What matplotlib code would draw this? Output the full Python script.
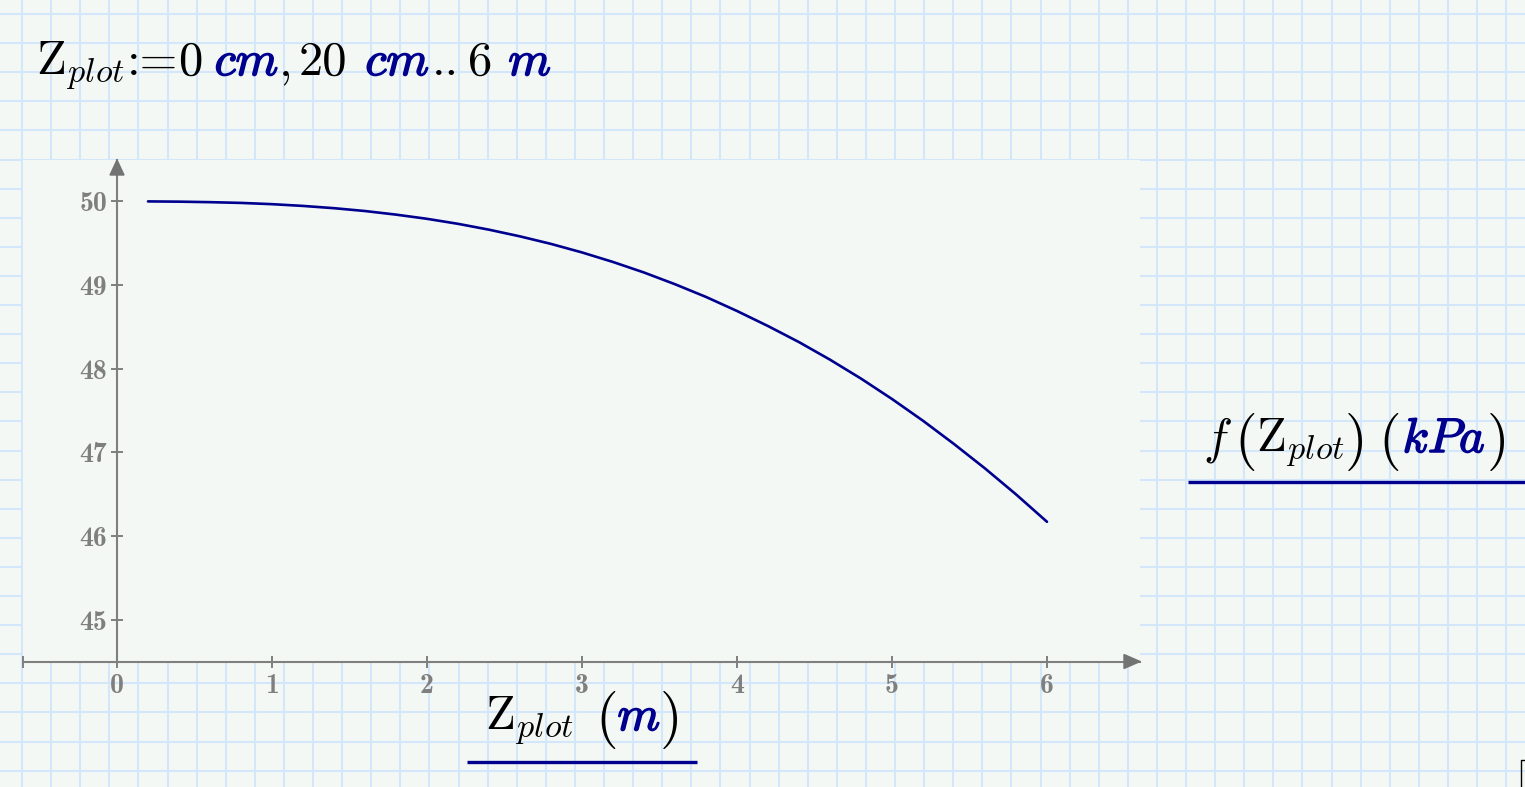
import matplotlib
matplotlib.use('Agg')
import matplotlib.pyplot as plt
import numpy as np
from matplotlib import patheffects as pe
from matplotlib.patches import Polygon

plt.rcParams['mathtext.fontset'] = 'cm'
plt.rcParams['axes.unicode_minus'] = False

# ---- data ----
z_plot = [0.2, 0.4, 0.6, 0.8, 1.0, 1.2, 1.4, 1.6, 1.8, 2.0,
          2.2, 2.4, 2.6, 2.8, 3.0, 3.2, 3.4, 3.6, 3.8, 4.0,
          4.2, 4.4, 4.6, 4.8, 5.0, 5.2, 5.4, 5.6, 5.8, 6.0]
f_vals = [50.000, 49.997, 49.991, 49.982, 49.967, 49.946, 49.919, 49.885, 49.842, 49.792,
          49.732, 49.662, 49.582, 49.492, 49.390, 49.276, 49.150, 49.010, 48.858, 48.690,
          48.510, 48.318, 48.108, 47.882, 47.638, 47.378, 47.100, 46.808, 46.498, 46.170]
x_ticks = [0, 1, 2, 3, 4, 5, 6]
y_ticks = [45, 46, 47, 48, 49, 50]
x_tick_labels = ['0', '1', '2', '3', '4', '5', '6']
y_tick_labels = ['45', '46', '47', '48', '49', '50']

W, H = 1525, 787
BG = '#f4f8f5'
GRID = '#d3e6fa'
BLUE = '#00008f'
GRAY = '#7f7f7f'

fig = plt.figure(figsize=(W / 100, H / 100), dpi=100)
fig.patch.set_facecolor(BG)

# background worksheet grid
bgax = fig.add_axes([0, 0, 1, 1], zorder=0)
bgax.set_xlim(0, W)
bgax.set_ylim(H, 0)
bgax.axis('off')
for gx in np.arange(22, W, 29.1):
    bgax.axvline(gx, color=GRID, lw=1.5, zorder=0)
for gy in np.arange(14, H, 29.1):
    bgax.axhline(gy, color=GRID, lw=1.5, zorder=0)

# underlines of the axis labels
bgax.plot([467, 697], [762, 762], color=BLUE, lw=2.4, solid_capstyle='butt', zorder=2)
bgax.plot([1188, 1525], [482, 482], color=BLUE, lw=2.4, solid_capstyle='butt', zorder=2)
# small cursor mark in the corner
bgax.plot([1521, 1521, 1525], [787, 760, 760], color='black', lw=1.0, zorder=2)

# main plot
L, R, T, B = 23, 1140, 160, 661.5
ax = fig.add_axes([L / W, 1 - B / H, (R - L) / W, (B - T) / H], zorder=2)
ax.set_facecolor(BG)
ax.set_xlim(-0.6065, 6.6)
ax.set_ylim(44.5, 50.495)

ax.plot(z_plot, f_vals, color=BLUE, lw=1.9, solid_capstyle='round',
        solid_joinstyle='round', zorder=3)

for s in ['top', 'right']:
    ax.spines[s].set_visible(False)
ax.spines['left'].set_position(('data', 0))
for s in ['left', 'bottom']:
    ax.spines[s].set_color(GRAY)
    ax.spines[s].set_linewidth(1.5)

ax.set_xticks(x_ticks)
ax.set_xticklabels(x_tick_labels, fontfamily='cmb10')
ax.set_yticks(y_ticks)
ax.set_yticklabels(y_tick_labels, fontfamily='cmb10')
ax.set_xticks([ax.get_xlim()[0]], minor=True)
ax.tick_params(which='both', direction='inout', length=8, width=1.4, color=GRAY,
               labelcolor=GRAY, labelsize=20)
ax.tick_params(axis='x', pad=4)
ax.tick_params(axis='y', pad=3)

# arrow heads
pw, ph = (R - L), (B - T)
xa = Polygon([[1, 0], [1 - 16 / pw, 7 / ph], [1 - 16 / pw, -7 / ph]], closed=True,
             transform=ax.transAxes, clip_on=False, color='#737373', zorder=4)
ax.add_patch(xa)
hw = 7 / 155.0
ya = Polygon([[0, 1], [-hw, 1 - 15 / ph], [hw, 1 - 15 / ph]], closed=True,
             transform=ax.get_xaxis_transform(), clip_on=False, color='#737373', zorder=4)
ax.add_patch(ya)

# ---- composed texts ----
renderer = fig.canvas.get_renderer()
FS = 35


def black_math(s, fs=FS, gap=0):
    return dict(s=s, gap=gap, kw=dict(fontsize=fs, color='black'))


def rom(s, fs=FS, gap=0, dy=0):
    return dict(s=s, gap=gap, dy=dy, kw=dict(fontfamily='cmr10', fontsize=fs, color='black'))


def blue(s, fs=FS, gap=0):
    return dict(s=s, gap=gap, kw=dict(fontfamily='cmmi10', fontsize=fs, color=BLUE,
                                      path_effects=[pe.withStroke(linewidth=1.1, foreground=BLUE)]))


def compose(x, y, pieces):
    for p in pieces:
        x += p.get('gap', 0)
        yy = y + p.get('dy', 0)
        t = fig.text(x / W, 1 - yy / H, p['s'], ha='left', va='baseline', zorder=5, **p['kw'])
        bb = t.get_window_extent(renderer)
        x = bb.x1
    return x


compose(36, 75, [
    black_math(r'$\mathrm{Z}_{plot}$'),
    rom(':=', gap=2),
    rom('0', gap=0),
    blue('cm', gap=12),
    rom(',', gap=1),
    rom('20', gap=6),
    blue('cm', gap=18),
    rom('..', gap=3),
    rom('6', gap=9),
    blue('m', gap=16),
])

compose(485, 730, [
    black_math(r'$\mathrm{Z}_{plot}$'),
    rom('(', fs=42, gap=22, dy=5),
    blue('m', gap=-1),
    rom(')', fs=42, gap=0, dy=5),
])

compose(1203, 452, [
    black_math(r'$f$'),
    rom('(', fs=42, gap=2, dy=5),
    black_math(r'$\mathrm{Z}_{plot}$', gap=-1),
    rom(')', fs=42, gap=0, dy=5),
    rom('(', fs=42, gap=11, dy=5),
    blue('kPa', gap=2),
    rom(')', fs=42, gap=2, dy=5),
])

fig.savefig('out.png', dpi=100, facecolor=BG)
